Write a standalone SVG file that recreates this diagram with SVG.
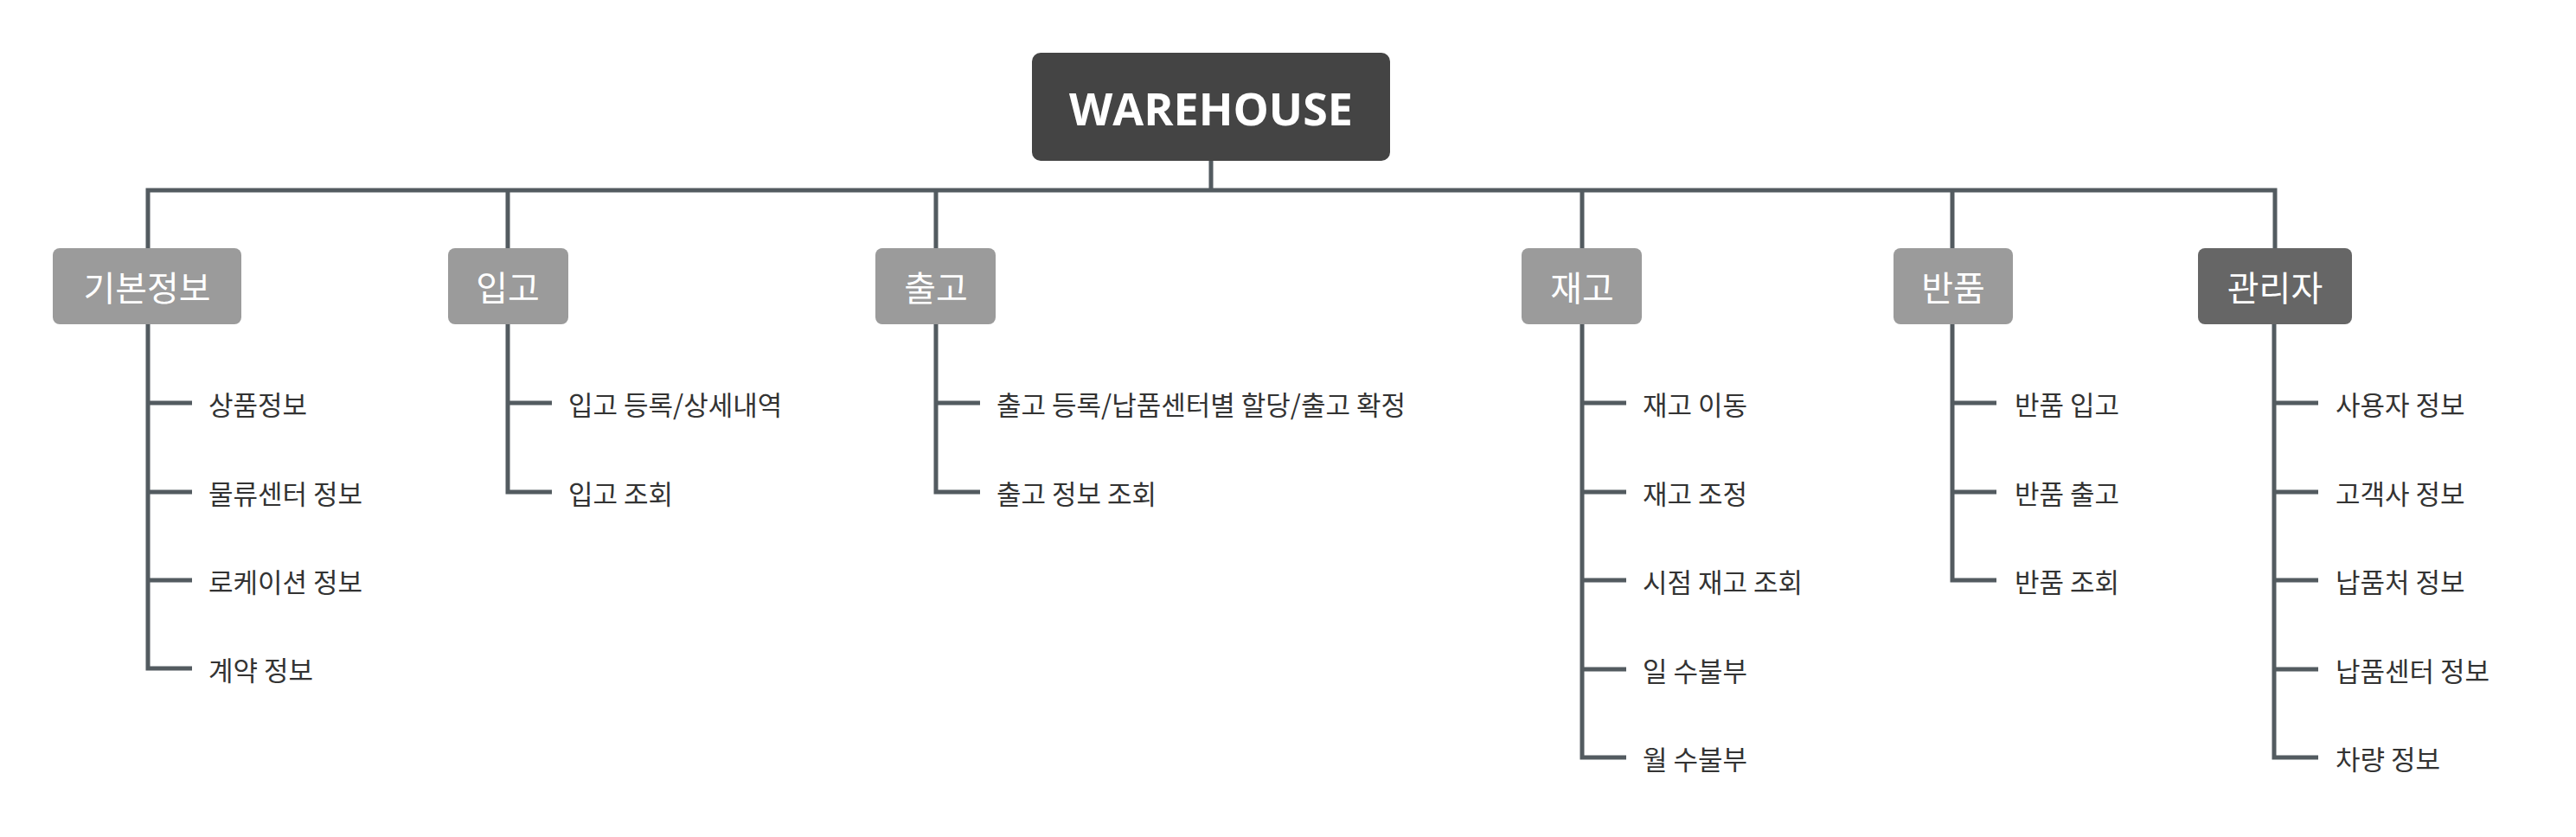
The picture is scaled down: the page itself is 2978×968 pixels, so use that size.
<svg xmlns="http://www.w3.org/2000/svg" width="2978" height="968" viewBox="0 0 2978 968">
<style>
.ln{stroke:#535b60;stroke-width:5;fill:none}
.b{fill:#9b9b9b}
.t{font-family:"Noto Sans CJK KR","Noto Sans",sans-serif;font-size:40px;fill:#fff;text-anchor:middle;dominant-baseline:central}
.c{font-family:"Noto Sans CJK KR","Noto Sans",sans-serif;font-size:31px;fill:#333;dominant-baseline:central}
</style>
<rect width="2978" height="968" fill="#fff"/>
<g id="connectors" class="ln">
<path d="M1400 186V220M171 287V220H2630V287M587 220V287M1082 220V287M1829 220V287M2257 220V287"/>
<path d="M171 374V773H222M171 466H222M171 569H222M171 671H222"/>
<path d="M587 374V569H638M587 466H638"/>
<path d="M1082 374V569H1133M1082 466H1133"/>
<path d="M1829 374V876H1880M1829 466H1880M1829 569H1880M1829 671H1880M1829 774H1880"/>
<path d="M2257 374V671H2308M2257 466H2308M2257 569H2308"/>
<path d="M2629 374V876H2680M2629 466H2680M2629 569H2680M2629 671H2680M2629 774H2680"/>
</g>
<g id="root"><rect x="1193" y="61" width="414" height="125" rx="10" fill="#444"/><text x="1400" y="124" class="t" style="font-family:'Open Sans','Noto Sans',sans-serif;font-weight:bold;font-size:52px">WAREHOUSE</text></g>
<g id="n1"><rect class="b" x="61" y="287" width="218" height="88" rx="8"/><text class="t" x="170" y="331">기본정보</text></g>
<g id="n2"><rect class="b" x="518" y="287" width="139" height="88" rx="8"/><text class="t" x="587" y="331">입고</text></g>
<g id="n3"><rect class="b" x="1012" y="287" width="139" height="88" rx="8"/><text class="t" x="1082" y="331">출고</text></g>
<g id="n4"><rect class="b" x="1759" y="287" width="139" height="88" rx="8"/><text class="t" x="1829" y="331">재고</text></g>
<g id="n5"><rect class="b" x="2189" y="287" width="138" height="88" rx="8"/><text class="t" x="2258" y="331">반품</text></g>
<g id="n6"><rect fill="#666" x="2541" y="287" width="178" height="88" rx="8"/><text class="t" x="2630" y="331">관리자</text></g>
<g id="c1"><text class="c" x="241" y="466">상품정보</text><text class="c" x="241" y="569">물류센터 정보</text><text class="c" x="241" y="671">로케이션 정보</text><text class="c" x="241" y="773">계약 정보</text></g>
<g id="c2"><text class="c" x="657" y="466">입고 등록/상세내역</text><text class="c" x="657" y="569">입고 조회</text></g>
<g id="c3"><text class="c" x="1152" y="466">출고 등록/납품센터별 할당/출고 확정</text><text class="c" x="1152" y="569">출고 정보 조회</text></g>
<g id="c4"><text class="c" x="1899" y="466">재고 이동</text><text class="c" x="1899" y="569">재고 조정</text><text class="c" x="1899" y="671">시점 재고 조회</text><text class="c" x="1899" y="774">일 수불부</text><text class="c" x="1899" y="876">월 수불부</text></g>
<g id="c5"><text class="c" x="2329" y="466">반품 입고</text><text class="c" x="2329" y="569">반품 출고</text><text class="c" x="2329" y="671">반품 조회</text></g>
<g id="c6"><text class="c" x="2700" y="466">사용자 정보</text><text class="c" x="2700" y="569">고객사 정보</text><text class="c" x="2700" y="671">납품처 정보</text><text class="c" x="2700" y="774">납품센터 정보</text><text class="c" x="2700" y="876">차량 정보</text></g>
</svg>
